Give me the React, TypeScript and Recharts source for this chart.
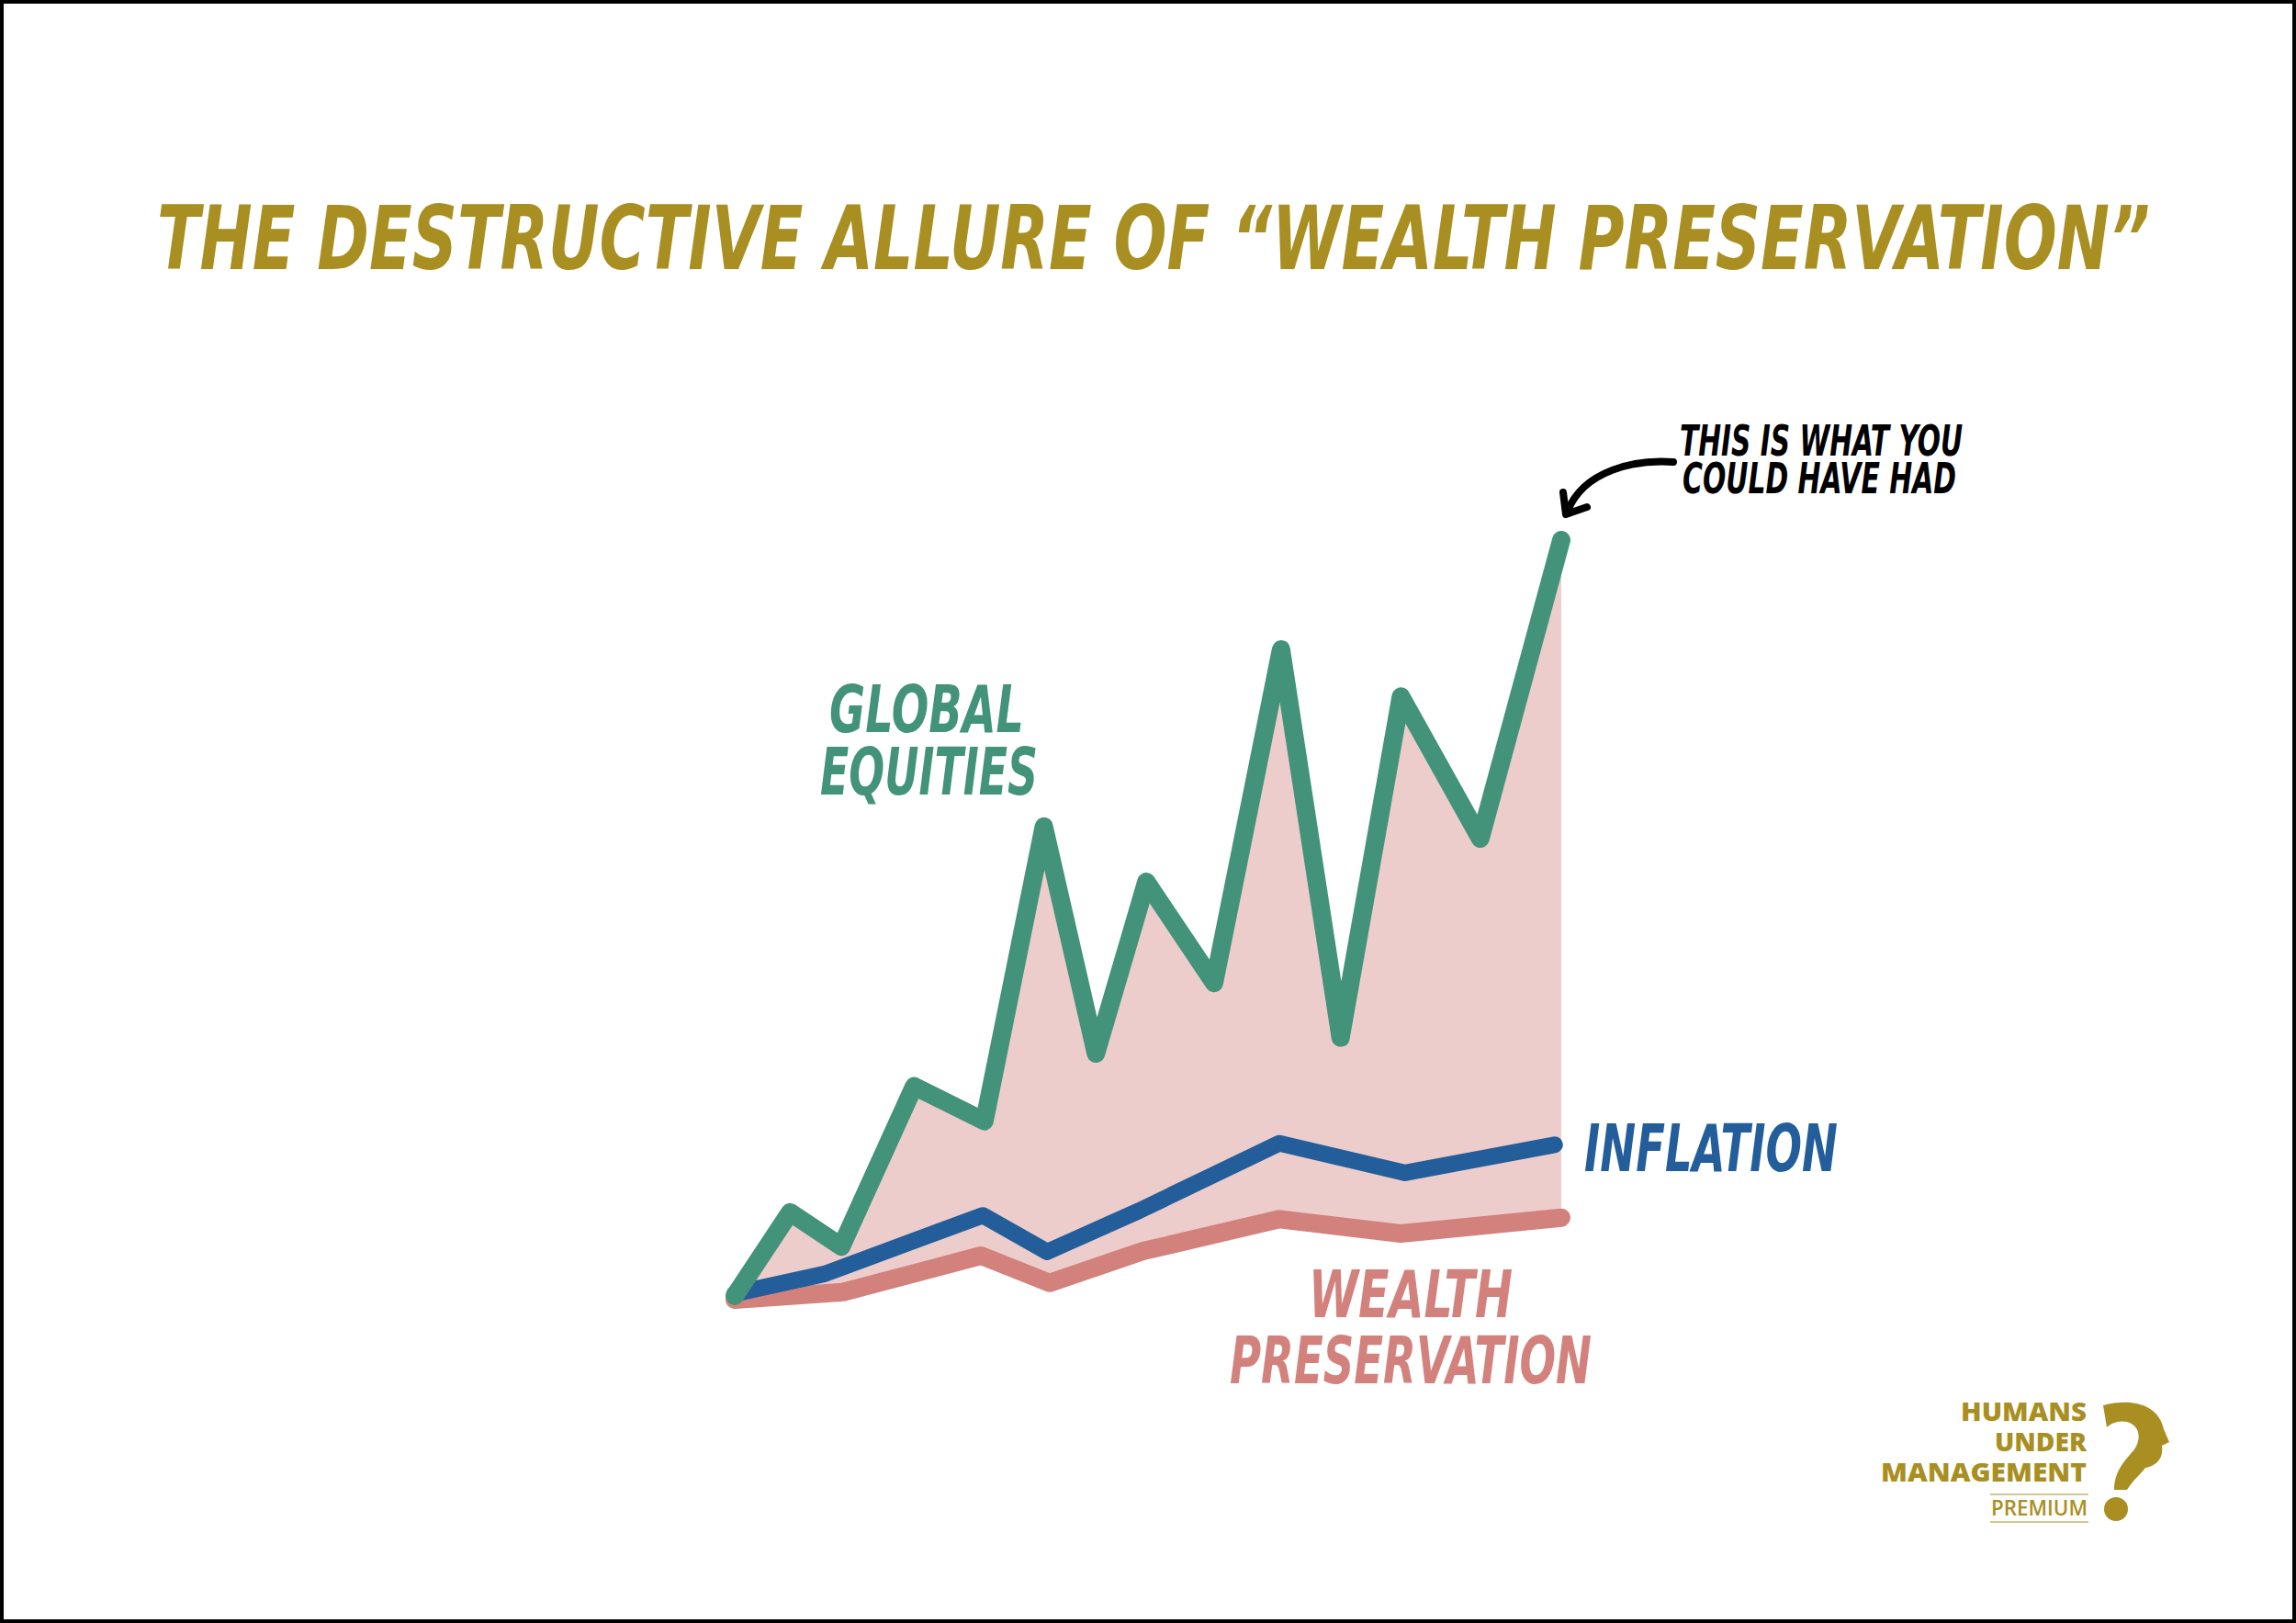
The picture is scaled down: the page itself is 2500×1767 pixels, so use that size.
import React from "react";
import { ComposedChart, Area, Line, XAxis, YAxis } from "recharts";

// x: relative time (0-100), y: relative growth index (0-100)
const equitiesX = [0, 6.7, 12.9, 21.7, 30.2, 37.4, 43.7, 49.8, 58.0, 66.1, 73.3, 80.6, 90.2, 100];
const equitiesY = [0.5, 11.5, 7.0, 28.1, 23.5, 62.3, 32.4, 55.0, 41.7, 85.6, 34.5, 79.4, 60.7, 100];

const inflationX = [0, 10.9, 30.0, 37.8, 48.9, 65.9, 81.1, 99.2];
const inflationY = [0.8, 3.4, 11.1, 6.3, 11.7, 20.6, 16.7, 20.4];

const preservationX = [0, 13.1, 29.8, 38.1, 49.4, 65.9, 80.6, 100];
const preservationY = [0, 1.0, 5.8, 2.2, 6.4, 10.6, 8.7, 10.8];

const TITLE = "THE DESTRUCTIVE ALLURE OF \u201CWEALTH PRESERVATION\u201D";
const NOTE_LINES = ["THIS IS WHAT YOU", "COULD HAVE HAD"];
const LOGO_LINES = ["HUMANS", "UNDER", "MANAGEMENT"];

const toSeries = (xs: number[], ys: number[]) => xs.map((x, i) => ({ x, y: ys[i] }));
const equities = toSeries(equitiesX, equitiesY);
const inflation = toSeries(inflationX, inflationY);
const preservation = toSeries(preservationX, preservationY);

const GREEN = "#43937B";
const BLUE = "#235E9B";
const RED = "#D3817D";
const PINK = "#ECCDCB";
const GOLD = "#A98F22";

const W = 2500;
const H = 1767;
const HAND = "'DejaVu Sans Condensed', 'DejaVu Sans', sans-serif";

type STProps = {
  x: number;
  y: number;
  size: number;
  stretch: number;
  len: number;
  fill: string;
  weight?: number;
  italic?: boolean;
  family?: string;
  children: React.ReactNode;
};

function StretchText({ x, y, size, stretch, len, fill, weight = 700, italic = true, family = HAND, children }: STProps) {
  return (
    <text
      transform={`translate(${x},${y}) scale(1,${stretch})`}
      x={0}
      y={0}
      fill={fill}
      fontFamily={family}
      fontWeight={weight}
      fontStyle={italic ? "italic" : "normal"}
      fontSize={size}
      textLength={len}
      lengthAdjust="spacingAndGlyphs"
    >
      {children}
    </text>
  );
}

export default function App() {
  return (
    <div style={{ position: "absolute", left: 0, top: 0, width: W, height: H, background: "#fff" }}>
      <ComposedChart
        width={W}
        height={H}
        margin={{ left: 800, right: 800, top: 588, bottom: H - 1415 }}
      >
        <XAxis type="number" dataKey="x" domain={[0, 100]} hide />
        <YAxis type="number" dataKey="y" domain={[0, 100]} hide />
        <Area
          data={equities}
          dataKey="y"
          type="linear"
          stroke="none"
          fill={PINK}
          fillOpacity={1}
          isAnimationActive={false}
          dot={false}
          activeDot={false}
        />
        <Area
          data={preservation}
          dataKey="y"
          type="linear"
          stroke="none"
          fill="#ffffff"
          fillOpacity={1}
          isAnimationActive={false}
          dot={false}
          activeDot={false}
        />
        <Line
          data={preservation}
          dataKey="y"
          type="linear"
          stroke={RED}
          strokeWidth={20}
          strokeLinecap="round"
          strokeLinejoin="round"
          dot={false}
          activeDot={false}
          isAnimationActive={false}
        />
        <Line
          data={inflation}
          dataKey="y"
          type="linear"
          stroke={BLUE}
          strokeWidth={18}
          strokeLinecap="round"
          strokeLinejoin="round"
          dot={false}
          activeDot={false}
          isAnimationActive={false}
        />
        <Line
          data={equities}
          dataKey="y"
          type="linear"
          stroke={GREEN}
          strokeWidth={20}
          strokeLinecap="round"
          strokeLinejoin="round"
          dot={false}
          activeDot={false}
          isAnimationActive={false}
        />
      </ComposedChart>

      <svg
        width={W}
        height={H}
        style={{ position: "absolute", left: 0, top: 0, pointerEvents: "none" }}
      >
        <rect x={2} y={2} width={W - 4} height={H - 4} fill="none" stroke="#000" strokeWidth={4} />

        {/* Title */}
        <StretchText x={171} y={293} size={78} stretch={1.24} len={2170} fill={GOLD}>
          {TITLE}
        </StretchText>

        {/* Annotation */}
        <StretchText x={1829} y={496} size={35} stretch={1.3} len={308} fill="#000" weight={700}>
          {NOTE_LINES[0]}
        </StretchText>
        <StretchText x={1832} y={537} size={35} stretch={1.3} len={298} fill="#000" weight={700}>
          {NOTE_LINES[1]}
        </StretchText>
        <path
          d="M 1822 503 C 1780 500, 1725 512, 1707 556"
          fill="none"
          stroke="#000"
          strokeWidth={8}
          strokeLinecap="round"
        />
        <path
          d="M 1702 536 L 1705 560 L 1728 552"
          fill="none"
          stroke="#000"
          strokeWidth={8}
          strokeLinecap="round"
          strokeLinejoin="round"
        />

        {/* Series labels */}
        <StretchText x={903} y={797} size={52} stretch={1.37} len={212} fill={GREEN} weight={700}>
          GLOBAL
        </StretchText>
        <StretchText x={893} y={865} size={52} stretch={1.37} len={237} fill={GREEN} weight={700}>
          EQUITIES
        </StretchText>
        <StretchText x={1725} y={1275} size={54} stretch={1.33} len={276} fill={BLUE} weight={700}>
          INFLATION
        </StretchText>
        <StretchText x={1425} y={1434} size={54} stretch={1.33} len={222} fill={RED} weight={700}>
          WEALTH
        </StretchText>
        <StretchText x={1339} y={1506} size={54} stretch={1.33} len={394} fill={RED} weight={700}>
          PRESERVATION
        </StretchText>

        {/* Logo */}
        {LOGO_LINES.map((t, i) => (
          <text
            key={t}
            x={[2135, 2172, 2048][i]}
            y={1547 + i * 33}
            fill={GOLD}
            fontFamily="'Open Sans', sans-serif"
            fontWeight={800}
            fontSize={28}
            textLength={[137, 100, 224][i]}
            lengthAdjust="spacingAndGlyphs"
          >
            {t}
          </text>
        ))}
        <line x1={2167} x2={2274} y1={1627} y2={1627} stroke={GOLD} strokeOpacity={0.5} strokeWidth={2} />
        <text
          x={2168}
          y={1650}
          fill={GOLD}
          fontFamily="'Open Sans', sans-serif"
          fontWeight={600}
          fontSize={23}
          textLength={105}
          lengthAdjust="spacingAndGlyphs"
        >
          PREMIUM
        </text>
        <line x1={2167} x2={2274} y1={1657} y2={1657} stroke={GOLD} strokeOpacity={0.5} strokeWidth={2} />
        <path
          d="M 2290 1530 C 2320 1522, 2350 1528, 2356 1556 L 2362 1570 L 2354 1574 C 2356 1590, 2346 1596, 2336 1598 C 2330 1606, 2322 1612, 2316 1622 L 2302 1622 C 2302 1600, 2316 1588, 2324 1578 C 2332 1566, 2330 1552, 2316 1548 C 2306 1546, 2298 1550, 2294 1554 Z"
          fill={GOLD}
        />
        <circle cx={2304} cy={1643} r={13} fill={GOLD} />
      </svg>
    </div>
  );
}
